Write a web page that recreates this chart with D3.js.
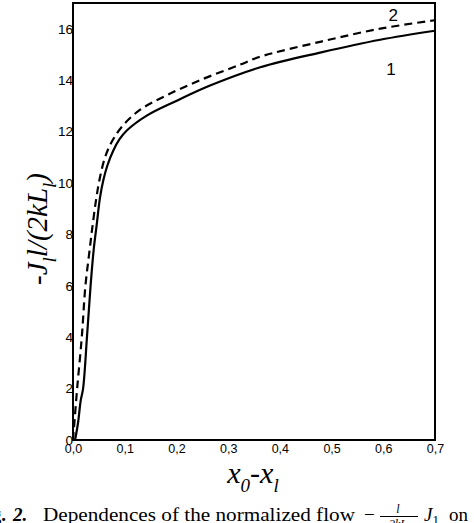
<!DOCTYPE html>
<html><head><meta charset="utf-8">
<script src="https://cdn.jsdelivr.net/npm/d3@7"></script>
<style>body{margin:0;background:#fff}svg{display:block}</style>
</head><body>
<script>
const xTicks = [0, 0.1, 0.2, 0.3, 0.4, 0.5, 0.6, 0.7];
const xTickLabels = ["0,0","0,1","0,2","0,3","0,4","0,5","0,6","0,7"];
const yTicks = [0, 2, 4, 6, 8, 10, 12, 14, 16];
const curve1X = [0.004, 0.0097, 0.015, 0.0195, 0.027, 0.034, 0.040, 0.046, 0.052, 0.0586, 0.066, 0.078, 0.09, 0.104, 0.1426, 0.2006, 0.265, 0.362, 0.48, 0.594, 0.7];
const curve1Y = [0, 0.66, 1.55, 2, 4, 6, 7.4, 8.4, 9.4, 10.1, 10.65, 11.26, 11.7, 12.04, 12.62, 13.2, 13.79, 14.5, 15.08, 15.57, 15.92];
const curve2X = [0.0, 0.002, 0.008, 0.017, 0.024, 0.031, 0.037, 0.045, 0.052, 0.062, 0.075, 0.095, 0.13, 0.18, 0.246, 0.323, 0.36, 0.48, 0.594, 0.7];
const curve2Y = [0, 0.5, 2, 4, 6, 7.2, 8.2, 9.4, 10.2, 11.0, 11.6, 12.2, 12.85, 13.4, 14.0, 14.6, 14.9, 15.5, 16.0, 16.33];
const curveLabels = ["1", "2"];

const W = 474, H = 523;
const L = 73, R = 435, T = 3, B = 440;
const svg = d3.select("body").append("svg").attr("width", W).attr("height", H);
const x = d3.scaleLinear().domain([0, 0.7]).range([L, R]);
const y = d3.scaleLinear().domain([0, 17]).range([B, T]);
const sans = "Liberation Sans, Arial, sans-serif";
const serif = "Liberation Serif, Times New Roman, serif";

// frame
svg.append("rect").attr("x", L).attr("y", T).attr("width", R - L).attr("height", B - T)
  .attr("fill", "none").attr("stroke", "#000").attr("stroke-width", 2);

// tick labels
const xa = svg.append("g").attr("transform", `translate(0,${B})`)
  .call(d3.axisBottom(x).tickValues(xTicks).tickSize(0).tickPadding(4).tickFormat((d, i) => xTickLabels[i]));
xa.select(".domain").remove();
xa.selectAll("text").style("font-family", sans).style("font-size", "12.5px").attr("fill", "#000");
const ya = svg.append("g").attr("transform", `translate(${L},0)`)
  .call(d3.axisLeft(y).tickValues(yTicks).tickSize(0).tickPadding(0));
ya.select(".domain").remove();
ya.selectAll("text").style("font-family", sans).style("font-size", "13.5px").attr("fill", "#000");

const line = d3.line().x(d => x(d[0])).y(d => y(d[1])).curve(d3.curveCatmullRom.alpha(0.5));
svg.append("path").datum(d3.zip(curve1X, curve1Y)).attr("d", line)
  .attr("fill", "none").attr("stroke", "#000").attr("stroke-width", 2.2);
svg.append("path").datum(d3.zip(curve2X, curve2Y)).attr("d", line)
  .attr("fill", "none").attr("stroke", "#000").attr("stroke-width", 2.2).attr("stroke-dasharray", "8,5");

// curve labels
svg.append("text").attr("x", x(0.615)).attr("y", y(14.21)).attr("text-anchor", "middle")
  .attr("font-family", sans).attr("font-size", 17).text(curveLabels[0]);
svg.append("text").attr("x", x(0.619)).attr("y", y(16.3)).attr("text-anchor", "middle")
  .attr("font-family", sans).attr("font-size", 17).text(curveLabels[1]);

// x axis title
const xt = svg.append("text").attr("x", 253).attr("y", 483).attr("text-anchor", "middle")
  .attr("font-family", serif).attr("font-style", "italic").attr("font-size", 30);
xt.append("tspan").text("x");
xt.append("tspan").attr("dy", 9).attr("font-size", 19).text("0");
xt.append("tspan").attr("dy", -9).text("-x");
xt.append("tspan").attr("dy", 9).attr("font-size", 19).text("l");

// y axis title
const yt = svg.append("text").attr("transform", "translate(47,229) rotate(-90)").attr("text-anchor", "middle")
  .attr("font-family", serif).attr("font-style", "italic").attr("font-size", 29);
yt.append("tspan").text("-J");
yt.append("tspan").attr("dy", 9).attr("font-size", 19).text("l");
yt.append("tspan").attr("dy", -9).text("l/(2kL");
yt.append("tspan").attr("dy", 9).attr("font-size", 19).text("l");
yt.append("tspan").attr("dy", -9).text(")");

// caption (cut at edges as in the source)
svg.append("text").attr("x", 6).attr("y", 521).attr("text-anchor", "end").attr("font-family", serif).attr("font-size", 19).attr("font-weight", "bold").text("Fig.");
svg.append("text").attr("x", 13).attr("y", 521).attr("font-family", serif).attr("font-size", 19).attr("font-style", "italic").attr("font-weight", "bold").text("2.");
svg.append("text").attr("x", 43).attr("y", 521).attr("font-family", serif).attr("font-size", 19)
  .attr("textLength", 312).attr("lengthAdjust", "spacingAndGlyphs").text("Dependences of the normalized flow");
svg.append("text").attr("x", 364).attr("y", 521).attr("font-family", serif).attr("font-size", 19).text("−");
svg.append("text").attr("x", 398).attr("y", 513).attr("text-anchor", "middle").attr("font-family", serif).attr("font-size", 12).attr("font-style", "italic").text("l");
svg.append("line").attr("x1", 380).attr("x2", 418).attr("y1", 516.5).attr("y2", 516.5).attr("stroke", "#000").attr("stroke-width", 1);
svg.append("text").attr("x", 398).attr("y", 528).attr("text-anchor", "middle").attr("font-family", serif).attr("font-size", 12).attr("font-style", "italic").text("2kL");
const j = svg.append("text").attr("x", 424).attr("y", 521).attr("font-family", serif).attr("font-size", 19);
j.append("tspan").attr("font-style", "italic").text("J");
j.append("tspan").attr("dy", 3).attr("font-size", 13).text("1");
svg.append("text").attr("x", 449).attr("y", 521).attr("font-family", serif).attr("font-size", 19).text("on");
</script>
</body></html>
